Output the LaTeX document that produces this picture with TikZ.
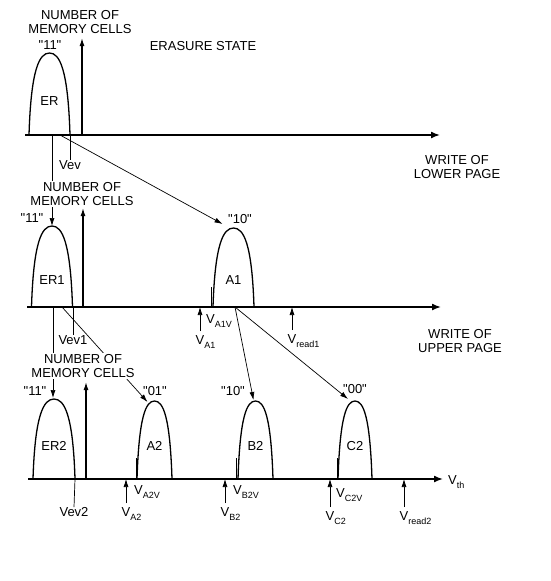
\documentclass[tikz,border=0pt]{standalone}
\usepackage{fontspec}
\setmainfont{Liberation Sans}[Ligatures=TeXOff]
\usetikzlibrary{arrows.meta}

\tikzset{
  axisline/.style={line width=1.5pt,-{Latex[length=9pt,width=7pt]}},
  cellsaxis/.style={line width=1.3pt,-{Latex[length=8pt,width=5pt]}},
  link/.style={line width=0.7pt,-{Latex[length=8pt,width=5pt]}},
  bar/.style={line width=0.7pt},
  humpline/.style={line width=1.3pt},
  lbl/.style={inner sep=0pt,font=\fontsize{13}{14}\selectfont},
  celltitle/.style={lbl,align=center,fill=white,inner sep=1pt},
}
\newcommand{\vsub}[1]{V\raisebox{-4pt}{\fontsize{9}{9}\selectfont #1}}

\begin{document}
\begin{tikzpicture}[x=1pt,y=-1pt]
\useasboundingbox (0,0) rectangle (550,581);

% distributions: name / centre / half width / base / peak / label y
\foreach \n/\c/\w/\b/\p/\ly in {ER/49.5/20.5/135/53/101, ER1/52/20.5/307/226/280,
    A1/233.5/20.5/307/228/280, ER2/54/21/479/399/446, A2/154.5/17.5/479/401/446,
    B2/255.5/17.5/479/401/446, C2/355/17/479/401/446}{
  \draw[humpline] ({\c-\w},\b)
    .. controls ({\c-\w+2},{\b-0.8*(\b-\p)}) and ({\c-0.5*\w},\p) .. (\c,\p)
    .. controls ({\c+0.5*\w},\p) and ({\c+\w-2},{\b-0.8*(\b-\p)}) .. ({\c+\w},\b);
  \coordinate (\n-top) at (\c,\p);
  \node[lbl] (\n-lbl) at (\c,\ly) {\n};
}

% erasure state
\coordinate (o0) at (25,135);
\coordinate (e0) at (440,135);
\draw[axisline] (o0) -- (e0);
\coordinate (y0) at (82,135);
\coordinate (y0top) at (82,38);
\draw[cellsaxis] (y0) -- (y0top);
\coordinate (vev) at (70,135);
\node[lbl] (vev-lbl) at (70,165) {Vev};
\draw[bar] (vev) -- (vev-lbl.north);
\node[lbl] (q11a) at (50,45) {"11"};
\node[lbl] (erase) at (203,46) {ERASURE STATE};
\node[lbl,align=center] (lower) at (457,167) {WRITE OF\\LOWER PAGE};

% lower page
\coordinate (o1) at (27,307);
\coordinate (e1) at (441,307);
\draw[axisline] (o1) -- (e1);
\coordinate (y1) at (83,307);
\coordinate (y1top) at (83,208);
\draw[cellsaxis] (y1) -- (y1top);
\coordinate (vev1) at (73,307);
\node[lbl] (vev1-lbl) at (73,340) {Vev1};
\draw[bar] (vev1) -- (vev1-lbl.north);
\node[lbl] (q11b) at (32,218) {"11"};
\node[lbl] (q10a) at (240,219) {"10"};
\coordinate (A1-tick) at (211,307);
\draw[bar] (A1-tick) -- ++(0,-20);
\node[lbl,anchor=north west] (vA1v) at (206,314) {\vsub{A1V}};
\node[lbl,align=center] (upper) at (460,341) {WRITE OF\\UPPER PAGE};

% upper page
\coordinate (o2) at (28,479);
\coordinate (e2) at (443,479);
\draw[axisline] (o2) -- (e2);
\node[lbl,anchor=north west] (vth) at (448,475) {\vsub{th}};
\coordinate (y2) at (86,479);
\coordinate (y2top) at (86,382);
\draw[cellsaxis] (y2) -- (y2top);
\coordinate (vev2) at (75,479);
\node[lbl] (vev2-lbl) at (74,512) {Vev2};
\draw[bar] (vev2) -- (vev2-lbl.north);
\node[lbl] (q11c) at (35,391) {"11"};
\node[lbl] (q01) at (155,391) {"01"};
\node[lbl] (q10b) at (233,391) {"10"};
\node[lbl] (q00) at (355,389) {"00"};
\foreach \n/\x in {A2/136, B2/236, C2/337}{
  \coordinate (\n-tick) at (\x,479);
  \draw[bar] (\n-tick) -- ++(0,-21);
}
\node[lbl,anchor=north west] (vA2v) at (134,485) {\vsub{A2V}};
\node[lbl,anchor=north west] (vB2v) at (233,485) {\vsub{B2V}};
\node[lbl,anchor=north west] (vC2v) at (336,488) {\vsub{C2V}};

% read and verify levels
\foreach \n/\x/\a/\e in {A1/200/307/331, read1/292/307/330, A2/126/479/503,
    B2/225/479/503, C2/330/479/507, read2/404/479/507}{
  \coordinate (v\n) at (\x,\a);
  \coordinate (v\n-end) at (\x,\e);
  \draw[link] (v\n-end) -- (v\n);
  \node[lbl,anchor=north west] (v\n-lbl) at ([shift={(-4.5,4)}]v\n-end) {\vsub{\n}};
}

% transitions
\coordinate (ER-a) at (52,135);
\coordinate (ER-b) at (60,135);
\coordinate (ER1-a) at (53,307);
\coordinate (ER1-b) at (62,307);
\coordinate (A1-a) at (235,307);
\draw[link] (ER-a) -- (ER1-top);
\draw[link] (ER-b) -- ([shift={(-11,-4)}]A1-top);
\draw[link] (ER1-a) -- ([shift={(-1,-1)}]ER2-top);
\draw[link] (ER1-b) -- ([shift={(-7,1)}]A2-top);
\draw[link] (A1-a) -- ([shift={(-2,-1)}]B2-top);
\draw[link] (A1-a) -- ([shift={(-7,-2)}]C2-top);

% axis titles over the links
\node[celltitle] (cells0) at (80,22) {NUMBER OF\\MEMORY CELLS};
\node[celltitle] (cells1) at (82,194) {NUMBER OF\\MEMORY CELLS};
\node[celltitle] (cells2) at (83,366) {NUMBER OF\\MEMORY CELLS};
\end{tikzpicture}
\end{document}
